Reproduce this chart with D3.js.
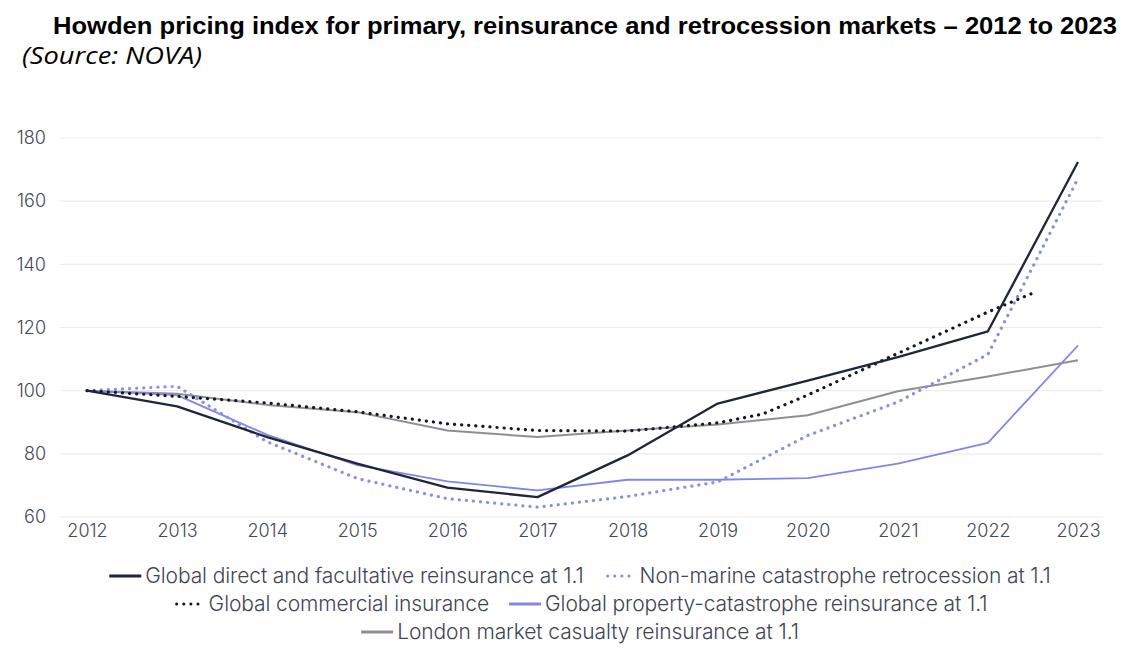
<!DOCTYPE html>
<html>
<head>
<meta charset="utf-8">
<script src="https://cdn.jsdelivr.net/npm/d3@7"></script>
<style>
  body { margin: 0; background: #fff; }
  svg { display: block; }
</style>
</head>
<body>
<div id="chart"></div>
<script>
// chart data
var years = [2012, 2013, 2014, 2015, 2016, 2017, 2018, 2019, 2020, 2021, 2022, 2023];
var directFac = [100, 95.0, 85.3, 76.9, 69.3, 66.3, 79.5, 95.9, 103.2, 110.6, 118.8, 172.4];
var nonMarineRetro = [100, 101.4, 83.8, 72.2, 65.8, 63.1, 66.5, 71.1, 85.8, 96.4, 111.5, 167.2];
var commercialYears = [2012, 2013, 2014, 2015, 2016, 2017, 2018, 2019, 2019.5, 2020, 2021, 2022, 2022.5];
var commercial = [100, 98.2, 96.1, 93.3, 89.5, 87.4, 87.2, 89.8, 92.6, 98.6, 111.8, 124.9, 130.9];
var propertyCat = [100, 98.6, 86.0, 76.4, 71.3, 68.4, 71.8, 71.8, 72.3, 76.9, 83.5, 114.3];
var londonCasualty = [100, 99.0, 95.5, 93.2, 87.4, 85.3, 87.4, 89.3, 92.2, 99.8, 104.5, 109.6];
var yTicks = [60, 80, 100, 120, 140, 160, 180];

var seriesNames = [
  "Global direct and facultative reinsurance at 1.1",
  "Non-marine catastrophe retrocession at 1.1",
  "Global commercial insurance",
  "Global property-catastrophe reinsurance at 1.1",
  "London market casualty reinsurance at 1.1"
];

var series = [
  {name: seriesNames[0], x: years, y: directFac, color: "#1e2638", dotted: false, w: 2.3},
  {name: seriesNames[1], x: years, y: nonMarineRetro, color: "#8a8ee6", dotted: true, w: 3.2},
  {name: seriesNames[2], x: commercialYears, y: commercial, color: "#151820", dotted: true, w: 3.2},
  {name: seriesNames[3], x: years, y: propertyCat, color: "#8185e8", dotted: false, w: 1.8},
  {name: seriesNames[4], x: years, y: londonCasualty, color: "#8e8f93", dotted: false, w: 2}
];
// draw order: grey & property first, dark lines on top
var drawOrder = [4, 3, 1, 2, 0];
var legendRows = [[0, 1], [2, 3], [4]];

var W = 1135, H = 650;

var svg = d3.select("#chart")
  .append("svg")
    .attr("width", W)
    .attr("height", H);

// title
svg.append("text")
  .attr("x", 53)
  .attr("y", 34)
  .attr("font-family", "'Liberation Sans Narrow', 'Liberation Sans', sans-serif")
  .attr("font-weight", 700)
  .attr("font-size", 24)
  .attr("fill", "#000")
  .attr("textLength", 1064)
  .attr("lengthAdjust", "spacingAndGlyphs")
  .text("Howden pricing index for primary, reinsurance and retrocession markets \u2013 2012 to 2023");

svg.append("text")
  .attr("x", 22)
  .attr("y", 64)
  .attr("font-family", "'Open Sans', 'Liberation Sans', sans-serif")
  .attr("font-style", "italic")
  .attr("font-size", 23)
  .attr("fill", "#000")
  .attr("textLength", 180)
  .attr("lengthAdjust", "spacingAndGlyphs")
  .text("(Source: NOVA)");

// scales
var x = d3.scaleLinear()
  .domain([2012, 2023])
  .range([87, 1078]);

var y = d3.scaleLinear()
  .domain([60, 180])
  .range([517, 138]);

var tickFont = "Inter, 'Noto Sans', sans-serif";

// gridlines
svg.append("g")
  .selectAll("line")
  .data(yTicks)
  .enter()
  .append("line")
    .attr("x1", 60)
    .attr("x2", 1103)
    .attr("y1", function(d) { return y(d); })
    .attr("y2", function(d) { return y(d); })
    .attr("stroke", "#ececec")
    .attr("stroke-width", 1.2);

// Y axis
var yAxis = svg.append("g")
  .attr("transform", "translate(46,0)")
  .call(d3.axisLeft(y).tickValues(yTicks).tickSize(0).tickPadding(0));
yAxis.select(".domain").remove();
yAxis.selectAll("text")
  .attr("font-family", tickFont)
  .attr("font-weight", 300)
  .attr("font-size", 18)
  .attr("fill", "#434957");

// X axis
var xAxis = svg.append("g")
  .attr("transform", "translate(0,524)")
  .call(d3.axisBottom(x).tickValues(years).tickFormat(d3.format("d")).tickSize(0).tickPadding(0));
xAxis.select(".domain").remove();
xAxis.selectAll("text")
  .attr("font-family", tickFont)
  .attr("font-weight", 300)
  .attr("font-size", 18)
  .attr("fill", "#434957");

// lines
var line = d3.line()
  .x(function(d) { return x(d[0]); })
  .y(function(d) { return y(d[1]); });

drawOrder.forEach(function(i) {
  var s = series[i];
  var pts = s.x.map(function(v, k) { return [v, s.y[k]]; });
  svg.append("path")
    .datum(pts)
    .attr("d", line)
    .attr("fill", "none")
    .attr("stroke", s.color)
    .attr("stroke-width", s.w)
    .attr("stroke-linejoin", "round")
    .attr("stroke-linecap", s.dotted ? "round" : "butt")
    .attr("stroke-dasharray", s.dotted ? "0.1 7" : null);
});

// legend, rows centred
var legend = svg.append("g");
var rowY = [576, 604, 632];
var symW = 32, symGap = 4, itemGap = 20, centreX = 580;
var legendFont = "Inter, 'Noto Sans', sans-serif";

legendRows.forEach(function(row, r) {
  var g = legend.append("g");
  var cursor = 0;
  row.forEach(function(i, k) {
    var s = series[i];
    if (k > 0) cursor += itemGap;
    g.append("line")
      .attr("x1", cursor + (s.dotted ? 4 : 0))
      .attr("x2", cursor + symW - (s.dotted ? 6 : 0))
      .attr("y1", 0).attr("y2", 0)
      .attr("stroke", s.color)
      .attr("stroke-width", 3)
      .attr("stroke-linecap", s.dotted ? "round" : "butt")
      .attr("stroke-dasharray", s.dotted ? "0.1 7" : null);
    cursor += symW + symGap;
    var t = g.append("text")
      .attr("x", cursor)
      .attr("y", 0)
      .attr("dy", "0.35em")
      .attr("font-family", legendFont)
      .attr("font-weight", 300)
      .attr("font-size", 21)
      .attr("letter-spacing", -0.1)
      .attr("fill", "#3f4554")
      .text(s.name);
    cursor += t.node().getComputedTextLength();
  });
  g.attr("transform", "translate(" + (centreX - cursor / 2) + "," + rowY[r] + ")");
});
</script>
</body>
</html>
